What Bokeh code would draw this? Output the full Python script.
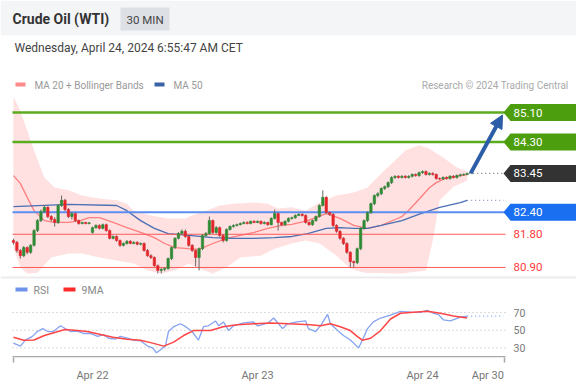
from bokeh.plotting import figure
from bokeh.models import (ColumnDataSource, Range1d, Label, BoxAnnotation, Span,
                          FixedTicker, Arrow, NormalHead)
from bokeh.layouts import column
from bokeh.embed import file_html
from bokeh.resources import INLINE
from bokeh.core.properties import value

# ---------------- data ----------------
title = "Crude Oil (WTI)"
interval = "30 MIN"
timestamp = "Wednesday, April 24, 2024 6:55:47 AM CET"
credit = "Research \u00a9 2024 Trading Central"
legend_main = ["MA 20 + Bollinger Bands", "MA 50"]
legend_rsi = ["RSI", "9MA"]

opens = [81.63, 81.58, 81.36, 81.22, 81.44, 81.31, 81.50, 81.90, 82.17, 82.42,
         82.53, 82.28, 82.20, 82.12, 82.58, 82.72, 82.47, 82.28, 82.36, 82.17,
         82.09, 82.12, 82.09, 81.85, 81.98, 82.04, 81.96, 82.06, 81.90, 81.69,
         81.74, 81.63, 81.50, 81.55, 81.61, 81.55, 81.58, 81.53, 81.55, 81.36,
         81.22, 81.17, 80.95, 80.82, 80.85, 80.87, 81.14, 81.44, 81.69, 81.82,
         81.88, 81.74, 81.50, 81.36, 81.17, 81.41, 81.77, 81.82, 82.17, 81.85,
         81.98, 81.77, 81.63, 81.93, 82.01, 82.04, 82.06, 82.09, 82.12, 82.09,
         82.15, 82.12, 82.15, 82.09, 82.12, 82.06, 82.23, 82.36, 82.12, 82.06,
         82.15, 82.23, 82.25, 82.31, 82.34, 82.31, 82.12, 82.06, 82.17, 82.28,
         82.58, 82.80, 82.39, 82.34, 82.04, 81.88, 81.69, 81.55, 81.31, 81.06,
         81.03, 81.41, 81.96, 82.17, 82.39, 82.63, 82.85, 82.90, 83.04, 83.09,
         83.20, 83.34, 83.37, 83.34, 83.37, 83.34, 83.37, 83.42, 83.39, 83.47,
         83.50, 83.42, 83.45, 83.42, 83.31, 83.30, 83.34, 83.31, 83.37, 83.34,
         83.39, 83.41, 83.42]
closes = [81.58, 81.36, 81.22, 81.44, 81.31, 81.50, 81.90, 82.17, 82.42, 82.53,
          82.28, 82.20, 82.12, 82.58, 82.72, 82.47, 82.28, 82.36, 82.17, 82.09,
          82.12, 82.09, 82.11, 81.98, 82.04, 81.96, 82.06, 81.90, 81.69, 81.74,
          81.63, 81.50, 81.55, 81.61, 81.55, 81.58, 81.53, 81.55, 81.36, 81.22,
          81.17, 80.95, 80.82, 80.85, 80.87, 81.14, 81.44, 81.69, 81.82, 81.88,
          81.74, 81.50, 81.36, 81.17, 81.41, 81.77, 81.82, 82.17, 81.85, 81.98,
          81.77, 81.63, 81.93, 82.01, 82.04, 82.06, 82.09, 82.12, 82.09, 82.15,
          82.12, 82.15, 82.09, 82.12, 82.06, 82.23, 82.36, 82.12, 82.06, 82.15,
          82.23, 82.25, 82.31, 82.34, 82.31, 82.12, 82.06, 82.17, 82.28, 82.58,
          82.80, 82.39, 82.34, 82.04, 81.88, 81.69, 81.55, 81.31, 81.06, 81.03,
          81.41, 81.96, 82.17, 82.39, 82.63, 82.85, 82.90, 83.04, 83.09, 83.20,
          83.34, 83.37, 83.34, 83.37, 83.34, 83.37, 83.42, 83.39, 83.47, 83.50,
          83.42, 83.45, 83.42, 83.31, 83.30, 83.34, 83.31, 83.37, 83.34, 83.39,
          83.41, 83.42, 83.45]
highs = [81.68, 81.62, 81.40, 81.48, 81.47, 81.53, 81.94, 82.21, 82.47, 82.58,
         82.56, 82.32, 82.26, 82.62, 82.85, 82.76, 82.51, 82.40, 82.39, 82.20,
         82.14, 82.14, 82.13, 82.01, 82.07, 82.07, 82.09, 82.09, 81.93, 81.77,
         81.77, 81.66, 81.58, 81.64, 81.64, 81.61, 81.61, 81.58, 81.58, 81.40,
         81.26, 81.20, 80.98, 80.88, 80.91, 81.17, 81.47, 81.72, 81.86, 81.93,
         81.93, 81.77, 81.53, 81.39, 81.44, 81.80, 81.86, 82.28, 82.20, 82.02,
         82.01, 81.80, 81.96, 82.04, 82.07, 82.09, 82.12, 82.15, 82.15, 82.17,
         82.18, 82.17, 82.17, 82.15, 82.14, 82.26, 82.47, 82.39, 82.14, 82.18,
         82.26, 82.28, 82.34, 82.37, 82.37, 82.34, 82.15, 82.20, 82.31, 82.61,
         82.99, 82.83, 82.42, 82.37, 82.07, 81.91, 81.72, 81.58, 81.34, 81.09,
         81.44, 81.99, 82.20, 82.42, 82.66, 82.88, 82.94, 83.07, 83.12, 83.23,
         83.37, 83.40, 83.40, 83.40, 83.40, 83.40, 83.45, 83.45, 83.50, 83.53,
         83.53, 83.48, 83.48, 83.45, 83.34, 83.37, 83.37, 83.40, 83.40, 83.42,
         83.44, 83.45, 83.47]
lows = [81.52, 81.30, 81.14, 81.18, 81.26, 81.27, 81.47, 81.86, 82.13, 82.38,
        82.24, 82.15, 82.01, 82.08, 82.54, 82.43, 82.24, 82.20, 82.13, 82.06,
        82.07, 82.07, 82.07, 81.82, 81.95, 81.93, 81.93, 81.87, 81.66, 81.66,
        81.60, 81.46, 81.47, 81.52, 81.53, 81.53, 81.50, 81.50, 81.33, 81.19,
        81.13, 80.92, 80.74, 80.74, 80.80, 80.84, 81.10, 81.40, 81.66, 81.78,
        81.70, 81.46, 81.32, 80.93, 80.82, 81.37, 81.73, 81.79, 81.81, 81.82,
        81.73, 81.58, 81.60, 81.90, 81.98, 82.01, 82.04, 82.07, 82.07, 82.07,
        82.10, 82.10, 82.06, 82.07, 82.03, 82.04, 82.20, 81.90, 82.02, 82.03,
        82.12, 82.20, 82.22, 82.29, 82.28, 82.09, 82.03, 82.03, 82.14, 82.25,
        82.55, 82.35, 82.30, 82.00, 81.84, 81.65, 81.51, 81.27, 80.90, 80.90,
        80.99, 81.37, 81.92, 82.13, 82.35, 82.59, 82.80, 82.86, 83.00, 83.05,
        83.16, 83.30, 83.31, 83.31, 83.31, 83.31, 83.34, 83.36, 83.36, 83.44,
        83.39, 83.39, 83.39, 83.28, 83.27, 83.27, 83.28, 83.28, 83.31, 83.31,
        83.36, 83.38, 83.40]

# Bollinger bands / moving averages (bar index, price)
ub_x = [0, 2, 4, 6, 9, 12, 16, 20, 25, 30, 33, 35, 40, 45, 50, 52, 56, 60, 64, 70,
        74, 77, 81, 85, 89, 94, 99, 103, 107, 111, 114, 118, 121, 125, 129, 132]
ub_y = [85.53, 85.15, 84.61, 84.07, 83.34, 83.07, 82.99, 82.85, 82.77, 82.72,
        82.63, 82.44, 82.31, 82.23, 82.23, 82.31, 82.44, 82.58, 82.63, 82.66,
        82.63, 82.50, 82.53, 82.44, 82.66, 82.85, 82.93, 83.07, 83.45, 83.80,
        84.07, 84.21, 84.12, 83.88, 83.61, 83.50]
lb_x = [0, 2, 4, 7, 11, 16, 20, 25, 30, 35, 39, 43, 47, 51, 54, 58, 62, 66, 72, 76,
        81, 85, 89, 94, 98, 102, 113, 120, 122, 124, 128, 132]
lb_y = [81.44, 80.90, 80.74, 80.76, 81.17, 81.28, 81.28, 81.17, 81.09, 81.01,
        80.82, 80.74, 80.82, 81.01, 80.87, 80.74, 80.90, 81.17, 81.22, 81.41,
        81.55, 81.63, 81.55, 81.22, 80.87, 80.76, 80.74, 80.82, 81.63, 82.72,
        83.09, 83.26]
ma20_x = [0, 2, 4, 6, 9, 12, 16, 19.5, 22, 25, 29, 33, 37, 41, 44, 47, 51, 54, 58, 62,
          66, 70, 74, 78, 81, 85.6, 91, 95, 99, 103, 107, 111, 113, 115, 118, 121,
          123, 126, 130, 132]
ma20_y = [83.39, 83.18, 82.80, 82.44, 82.17, 82.12, 82.12, 82.17, 82.25, 82.25,
          82.12, 81.98, 81.85, 81.71, 81.55, 81.44, 81.41, 81.39, 81.55, 81.69,
          81.77, 81.85, 81.96, 82.04, 82.07, 82.17, 82.36, 82.23, 82.04, 81.96,
          82.04, 82.20, 82.28, 82.45, 82.75, 83.06, 83.20, 83.33, 83.39, 83.42]
ma50_x = [0, 16, 30, 33, 37, 41, 45, 51, 58, 64, 70, 76, 81, 85.6, 91, 95, 99, 103,
          107, 113, 118.5, 124, 130, 132]
ma50_y = [82.55, 82.61, 82.58, 82.44, 82.17, 81.96, 81.82, 81.77, 81.71, 81.69,
          81.69, 81.71, 81.74, 81.82, 81.96, 81.98, 81.96, 81.96, 82.04, 82.17,
          82.36, 82.53, 82.66, 82.72]

rsi_x = [0, 2, 3.5, 5.5, 7, 8.5, 10, 11.6, 13.7, 15, 16.6, 18.6, 20.4, 22.4, 24.5,
         26.2, 27.7, 29.7, 31.1, 33.2, 34.9, 37, 39, 40.5, 41.6, 42.8, 44.2, 45.1,
         46.6, 48.6, 50.1, 52, 53.8, 55.3, 56.7, 58.8, 59.7, 61.1, 62.6, 64, 67,
         69.8, 71, 74, 75.7, 78.3, 79.7, 82.6, 85, 85.8, 87.9, 89.3, 91.4, 92.2,
         94.3, 96, 98.1, 100.4, 101.5, 103, 104.7, 106.8, 109.7, 112.6, 115.5,
         118.4, 120.4, 122.2, 123.6, 125.1, 127.1, 130, 132]
rsi_y = [35.4, 32, 38.7, 43, 48.5, 51.8, 48.5, 48.5, 55, 52, 48.5, 49, 46.3, 46.5,
         43, 45, 40.9, 40, 43, 41, 38.7, 38, 32, 30, 24.5, 27.8, 32, 48.5, 54, 57.3,
         54, 48.5, 38.7, 54, 55, 60.5, 55, 59.4, 49.6, 55, 58.3, 59.4, 55, 58, 63.8,
         51.8, 57.3, 59.4, 60.5, 51.8, 48.5, 55, 68, 57.3, 49.6, 44, 38.7, 30, 38.7,
         51.8, 59.4, 63.8, 67, 71.4, 70.5, 70.3, 72.5, 69.2, 68, 61.6, 60.5, 64.9, 66]
rsima_x = [0, 3, 6, 9, 12, 15, 18.6, 21.5, 25.3, 29, 33, 37, 40.5, 43.7, 46.6, 49.5,
           52.4, 57.3, 61, 65, 70, 74.8, 80, 86.4, 89.3, 92.2, 95.1, 98, 100, 101.5,
           103.9, 106.8, 109.7, 112.6, 116.4, 120.4, 124.2, 128, 132]
rsima_y = [42, 38.7, 38.9, 44, 47.4, 50.7, 49.6, 48.5, 45.2, 42, 39.8, 38.7, 35.4,
           32, 36.5, 44, 49.6, 49.6, 54, 56.1, 57.3, 58.3, 57.3, 56.1, 55, 57.3, 54,
           49.6, 43, 38.7, 40.9, 49.6, 62.7, 69.2, 70.3, 71.4, 69.2, 66, 63.8]

day_ticks = [23, 71, 119, 138]
day_labels = ["Apr 22", "Apr 23", "Apr 24", "Apr 30"]

levels = [85.10, 84.30, 83.45, 82.40, 81.80, 80.90]
level_kind = ["res", "res", "last", "pivot", "sup", "sup"]
level_text = ["85.10", "84.30", "83.45", "82.40", "81.80", "80.90"]
target = 85.10
rsi_levels = [30, 50, 70]
rsi_level_text = ["30", "50", "70"]

# ---------------- layout constants (canvas pixels) ----------------
FONT = "Roboto"
W = 576
H1 = 280          # y 0 .. 280
H2 = 104          # y 280 .. 384
PX_BAR = 3.4375   # px per 30-min bar
X0 = 12.94        # x of bar 0
PX_PRICE = 36.9   # px per 1.00 of price
PX_RSI = 0.9175


def bx(px):
    return (px - X0) / PX_BAR


def py(y):  # y -> price (85.10 level drawn at y 112)
    return levels[0] - (y - 112) / PX_PRICE


def ry(y):  # y -> RSI value (70 at y 313.3)
    return 70 - (y - 313.3) / PX_RSI


def sA(px, y):
    return px, 280 - y


def sB(px, y):
    return px, 360 - y


X_START, X_END = bx(12), bx(505)

# ---------------- price panel ----------------
pA = figure(width=W, height=H1, x_range=Range1d(bx(0), bx(576)),
            y_range=Range1d(py(280), py(0)), output_backend="svg",
            toolbar_location=None, min_border=0, x_axis_location=None,
            y_axis_location=None, outline_line_color=None,
            background_fill_color="white", border_fill_color="white")
pA.grid.visible = False


def sbox(p, helper, x1, y1, x2, y2, color):
    l, t = helper(x1, y1)
    r, b = helper(x2, y2)
    p.add_layout(BoxAnnotation(left=l, right=r, top=t, bottom=b,
                               left_units="screen", right_units="screen",
                               top_units="screen", bottom_units="screen",
                               fill_color=color, fill_alpha=1.0,
                               line_color=None, line_alpha=0))


def slabel(p, helper, px, y, text, size, color, bold=False, align="left"):
    sx, sy = helper(px, y)
    p.add_layout(Label(x=sx, y=sy, x_units="screen", y_units="screen", text=text,
                       text_font=FONT, text_font_size=size, text_color=color,
                       text_font_style="bold" if bold else "normal",
                       text_baseline="middle", text_align=align))


# header
sbox(pA, sA, 0, 0, 576, 35, "#f4f5f7")
sbox(pA, sA, 120, 7, 169, 30, "#dde0e5")
slabel(pA, sA, 12, 18.5, title, "14px", "#333333", bold=True)
slabel(pA, sA, 126, 19, interval, "11.5px", "#444444")
slabel(pA, sA, 14, 47, timestamp, "12px", "#444444")
# legend
sbox(pA, sA, 15, 82, 25, 86, "#ff8a8a")
slabel(pA, sA, 34, 84.5, legend_main[0], "10px", "#999999")
sbox(pA, sA, 154, 82, 164, 86, "#3b62a6")
slabel(pA, sA, 173, 84.5, legend_main[1], "10px", "#999999")
slabel(pA, sA, 568, 84.5, credit, "10px", "#aaaaaa", align="right")
# separator under price pane
sbox(pA, sA, 0, 276, 576, 278, "#ececec")

# Bollinger band
pA.patch(ub_x + lb_x[::-1], ub_y + lb_y[::-1], fill_color="#ff6b6b",
         fill_alpha=0.2, line_color=None)
pA.line(ma20_x, ma20_y, line_color="#ff7f7f", line_width=1.3)
pA.line(ma50_x, ma50_y, line_color="#4a6fb3", line_width=1.3)
pA.line([ma50_x[-1], bx(503)], [ma50_y[-1], ma50_y[-1]], line_color="#8796b8",
        line_width=1.2, line_dash="1 3")

# level lines
lvl_color = {"res": "#5aab1e", "last": None, "pivot": "#5b8ef0", "sup": "#ff5a5a"}
lvl_width = {"res": 2.5, "pivot": 2.0, "sup": 1.0}
for lv, kind in zip(levels, level_kind):
    if kind == "last":
        continue
    pA.line([X_START, X_END], [lv, lv], line_color=lvl_color[kind],
            line_width=lvl_width[kind])

# candles
idx = list(range(len(closes)))
up = [c >= o for o, c in zip(opens, closes)]
src = ColumnDataSource(dict(
    x=idx, h=highs, l=lows,
    top=[max(o, c) for o, c in zip(opens, closes)],
    bottom=[min(o, c) for o, c in zip(opens, closes)],
    color=["#2f8a35" if u else "#e3262c" for u in up]))
pA.segment(x0="x", y0="h", x1="x", y1="l", line_color="#666666", line_width=1,
           source=src)
pA.vbar(x="x", width=0.7, top="top", bottom="bottom", fill_color="color",
        line_color="color", line_width=0.6, source=src)

# last price dotted line
last = closes[-1]
pA.line([idx[-1] + 0.6, bx(503)], [last, last], line_color="#777777",
        line_width=1.2, line_dash="1 3")

# projection arrow
pA.add_layout(Arrow(end=NormalHead(size=13, fill_color="#2b5ea7",
                                   line_color="#2b5ea7", line_width=1),
                    x_start=idx[-1] + 1, y_start=last,
                    x_end=bx(502), y_end=target - 2.5 / PX_PRICE,
                    line_color="#2b5ea7", line_width=4))

# right-hand badges
badge_fill = {"res": "#4d9e0f", "last": "#333333", "pivot": "#1a6ff0"}
half = 8.5 / PX_PRICE
tip, body, right = bx(503), bx(510), bx(580)
for lv, kind, txt in zip(levels, level_kind, level_text):
    if kind in badge_fill:
        pA.patch([tip, body, right, right, body],
                 [lv, lv + half, lv + half, lv - half, lv - half],
                 fill_color=badge_fill[kind], line_color=None)
        tcol = "white"
    else:
        tcol = "#ff3b3b"
    pA.text(x=[bx(513)], y=[lv], text=[txt], text_font=value(FONT),
            text_font_size="11.5px", text_color=tcol, text_baseline="middle")

# ---------------- RSI panel ----------------
pB = figure(width=W, height=H2, x_range=Range1d(bx(0), bx(576)),
            y_range=Range1d(ry(360), ry(280)), output_backend="svg",
            toolbar_location=None, y_axis_location=None,
            min_border_left=0, min_border_right=0, min_border_top=0,
            min_border_bottom=24, outline_line_color=None,
            background_fill_color="white", border_fill_color="white")
pB.grid.visible = False

for lv in rsi_levels:
    pB.line([X_START, X_END], [lv, lv], line_color="#b5b5b5", line_width=1,
            line_dash="1 3")
pB.text(x=[bx(513)] * len(rsi_levels), y=rsi_levels, text=rsi_level_text,
        text_font=value(FONT), text_font_size="10.5px", text_color="#777777",
        text_baseline="middle")

pB.line(rsi_x, rsi_y, line_color="#86a3f2", line_width=1.3)
pB.line(rsima_x, rsima_y, line_color="#ff4545", line_width=1.5)
pB.line([rsi_x[-1], bx(503)], [rsi_y[-1], rsi_y[-1]], line_color="#86a3f2",
        line_width=1.2, line_dash="1 3")

# axis baseline (the time axis spans only the plotted period)
pB.line([X_START, X_END], [ry(359.3), ry(359.3)], line_color="#a8a8a8",
        line_width=1.5)

sbox(pB, sB, 15, 290, 27, 294, "#6f93ea")
slabel(pB, sB, 33, 292.5, legend_rsi[0], "10.5px", "#888888")
sbox(pB, sB, 63, 290, 75, 294, "#ff2a2a")
slabel(pB, sB, 81, 292.5, legend_rsi[1], "10.5px", "#888888")

xa = pB.xaxis[0]
xa.ticker = FixedTicker(ticks=day_ticks, minor_ticks=[bx(12.8), bx(504.2)])
xa.major_label_overrides = {t: s for t, s in zip(day_ticks, day_labels)}
xa.axis_line_color = None
xa.major_tick_line_color = None
xa.major_tick_out = 0
xa.major_tick_in = 0
xa.minor_tick_line_color = "#a8a8a8"
xa.minor_tick_line_width = 1.5
xa.minor_tick_out = 5
xa.minor_tick_in = 0
xa.major_label_standoff = 6
xa.major_label_text_font = FONT
xa.major_label_text_font_size = "11px"
xa.major_label_text_color = "#777777"

layout = column(pA, pB, spacing=0)
open("out.html", "w").write(file_html(layout, INLINE))
